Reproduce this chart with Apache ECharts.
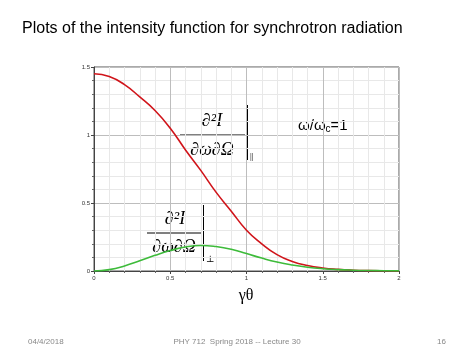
<!DOCTYPE html>
<html><head><meta charset="utf-8">
<script src="https://cdn.jsdelivr.net/npm/echarts@6/dist/echarts.min.js"></script>
<style>html,body{margin:0;padding:0;background:#fff}#c{width:474px;height:355px}</style>
</head><body><div id="c"></div>
<script>
const gammaTheta = [0,0.1,0.2,0.3,0.4,0.5,0.6,0.7,0.8,0.9,1.0,1.1,1.2,1.3,1.4,1.5,1.6,1.7,1.8,1.9,2.0];
const parallelI = [1.45,1.43,1.37,1.28,1.18,1.05,0.89,0.74,0.58,0.44,0.30,0.20,0.12,0.07,0.04,0.022,0.012,0.006,0.003,0.0015,0.001];
const perpI = [0,0.01,0.037,0.075,0.115,0.15,0.177,0.188,0.18,0.16,0.128,0.095,0.066,0.044,0.028,0.017,0.01,0.006,0.0035,0.002,0.001];
const xTicks = [0,0.5,1,1.5,2];
const yTicks = [0,0.5,1,1.5];

const chart = echarts.init(document.getElementById('c'));
const serif = '"Liberation Serif","DejaVu Serif",serif';
const sans = '"Liberation Sans",Arial,sans-serif';
const pair = (xs, ys) => xs.map((x,i)=>[x, ys[i]]);
chart.setOption({
  animation:false,
  backgroundColor:'#fff',
  grid:{left:94,right:75,top:67,bottom:84,show:true,borderColor:'#555',borderWidth:1},
  xAxis:{type:'value',min:xTicks[0],max:xTicks[xTicks.length-1],interval:0.5,
    axisLine:{lineStyle:{color:'#444',width:1}},
    axisTick:{show:true,length:3,lineStyle:{color:'#444'}},
    minorTick:{show:true,splitNumber:5,length:2,lineStyle:{color:'#666'}},
    splitLine:{show:true,lineStyle:{color:'#bdbdbd',width:1}},
    minorSplitLine:{show:true,lineStyle:{color:'#e8e8e8',width:1}},
    axisLabel:{fontSize:6,color:'#333',margin:4,fontFamily:sans,formatter:v=>String(v)}},
  yAxis:{type:'value',min:yTicks[0],max:yTicks[yTicks.length-1],interval:0.5,
    axisLine:{show:true,lineStyle:{color:'#444',width:1}},
    axisTick:{show:true,length:3,lineStyle:{color:'#444'}},
    minorTick:{show:true,splitNumber:5,length:2,lineStyle:{color:'#666'}},
    splitLine:{show:true,lineStyle:{color:'#bdbdbd',width:1}},
    minorSplitLine:{show:true,lineStyle:{color:'#e8e8e8',width:1}},
    axisLabel:{fontSize:6,color:'#333',margin:4,fontFamily:sans,formatter:v=>String(v)}},
  series:[
    {type:'line',data:pair(gammaTheta,parallelI),smooth:true,showSymbol:false,z:3,
     lineStyle:{color:'#d0141a',width:1.6}},
    {type:'line',data:pair(gammaTheta,perpI),smooth:true,showSymbol:false,z:4,
     lineStyle:{color:'#3dbb3a',width:1.6}}
  ],
  graphic:[
    {type:'text',left:22,top:21,style:{text:'Plots of the intensity function for synchrotron radiation',font:'16px '+sans,fill:'#000'}},
    // parallel fraction
    {type:'text',x:212,y:121,style:{text:'∂²I',font:'italic 18px '+serif,fill:'#000',align:'center',verticalAlign:'middle'}},
    {type:'line',shape:{x1:180,y1:135,x2:245,y2:135},style:{stroke:'#000',lineWidth:1}},
    {type:'text',x:212,y:150,style:{text:'∂ω∂Ω',font:'italic 18px '+serif,fill:'#000',align:'center',verticalAlign:'middle'}},
    {type:'line',shape:{x1:247.5,y1:105,x2:247.5,y2:160},style:{stroke:'#000',lineWidth:1}},
    {type:'text',x:250,y:157,style:{text:'||',font:'9px '+serif,fill:'#000',align:'left',verticalAlign:'middle'}},
    // omega label
    {type:'text',x:298,y:126,style:{
      rich:{a:{font:'15px '+sans,fill:'#000'},s:{font:'10px '+sans,fill:'#000',verticalAlign:'bottom',padding:[6,0,0,0]}},
      text:'{a|ω/ω}{s|c}{a|=1}',verticalAlign:'middle'}},
    // perpendicular fraction
    {type:'text',x:175,y:219,style:{text:'∂²I',font:'italic 18px '+serif,fill:'#000',align:'center',verticalAlign:'middle'}},
    {type:'line',shape:{x1:147,y1:233,x2:201,y2:233},style:{stroke:'#000',lineWidth:1}},
    {type:'text',x:174,y:247,style:{text:'∂ω∂Ω',font:'italic 18px '+serif,fill:'#000',align:'center',verticalAlign:'middle'}},
    {type:'line',shape:{x1:203.5,y1:205,x2:203.5,y2:261},style:{stroke:'#000',lineWidth:1}},
    {type:'text',x:206,y:260,style:{text:'⊥',font:'9px '+serif,fill:'#000',align:'left',verticalAlign:'middle'}},
    // axis title
    {type:'text',x:246,y:296,style:{text:'γθ',font:'16px '+serif,fill:'#000',align:'center',verticalAlign:'middle'}},
    // footer
    {type:'text',x:28,y:342,style:{text:'04/4/2018',font:'8px '+sans,fill:'#888',verticalAlign:'middle'}},
    {type:'text',x:237,y:342,style:{text:'PHY 712  Spring 2018 -- Lecture 30',font:'8px '+sans,fill:'#888',align:'center',verticalAlign:'middle'}},
    {type:'text',x:446,y:342,style:{text:'16',font:'8px '+sans,fill:'#888',align:'right',verticalAlign:'middle'}}
  ]
});
</script></body></html>
